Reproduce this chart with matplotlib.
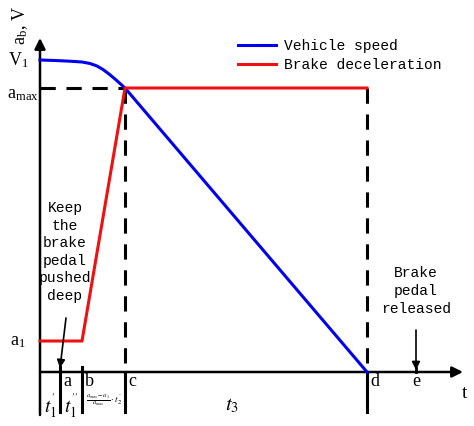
import numpy as np
import matplotlib
matplotlib.use("Agg")
import matplotlib.pyplot as plt

plt.rcParams['mathtext.fontset'] = 'stix'

# time marks on the t axis
mark_names = ['a', 'b', 'c', 'd', 'e']
mark_t = [20, 42, 85, 327, 376]

# levels on the vertical axis
V1 = 312
a_max = 284
a1 = 31

# vehicle speed curve
speed_t = [0, 15, 30, 42, 50, 57, 63, 69, 75, 80, 85, 327]
speed_v = [312, 311.5, 310.8, 310, 308.5, 306, 302.5, 298, 293, 288.5, 284, 0]

# brake deceleration
brake_t = [0, 42, 85, 327]
brake_a = [31, 31, 284, 284]

mono = 'Liberation Mono'
serif = 'Liberation Serif'

fig = plt.figure(figsize=(4.74, 4.26), dpi=100)
ax = fig.add_axes([0, 0, 1, 1])
ax.set_xlim(-40, 434)
ax.set_ylim(-54, 372)
ax.axis('off')

# axes with arrows
ax.annotate('', xy=(0, 334), xytext=(0, -43),
            arrowprops=dict(arrowstyle='-|>', lw=1.8, color='k', mutation_scale=16, shrinkA=0, shrinkB=0))
ax.annotate('', xy=(423, 0), xytext=(0, 0),
            arrowprops=dict(arrowstyle='-|>', lw=1.8, color='k', mutation_scale=16, shrinkA=0, shrinkB=0))

# curves
ax.plot(speed_t, speed_v, color='#0000ee', lw=2.2, label='Vehicle speed', zorder=3)
ax.plot(brake_t, brake_a, color='#ee1111', lw=2.2, label='Brake deceleration', zorder=3)

# dashed guides
dash = dict(color='k', lw=2.2, ls=(0, (5, 3.5)))
ax.plot([0, mark_t[2]], [a_max, a_max], **dash)
ax.plot([mark_t[2], mark_t[2]], [a_max, 0], **dash)
ax.plot([mark_t[3], mark_t[3]], [a_max, 0], **dash)

# ticks below the axis
tick_top = [5, 5, 0, 0]
for t, top in zip(mark_t[:4], tick_top):
    ax.plot([t, t], [top, -40], color='k', lw=2.2)
ax.plot([mark_t[4], mark_t[4]], [0, 4], color='k', lw=2)

# mark letters
for name, t in zip(mark_names[:4], mark_t[:4]):
    ax.text(t + 3, -10, name, fontsize=13, family=serif, ha='left', va='center')
ax.text(mark_t[4], -10, mark_names[4], fontsize=13, family=serif, ha='center', va='center')
ax.text(425, -21, 't', fontsize=14, family=serif, ha='center', va='center')

# vertical axis labels
ax.text(-20, 347, r'a$_\mathregular{b}$, V', fontsize=13, family=serif, rotation=90,
        ha='center', va='center')
ax.text(-22, V1, r'V$_\mathregular{1}$', fontsize=13, family=serif, ha='center', va='center')
ax.text(-17, a_max - 6, r'a$_\mathregular{max}$', fontsize=13, family=serif, ha='center', va='center')
ax.text(-22, a1 - 1, r'a$_\mathregular{1}$', fontsize=13, family=serif, ha='center', va='center')

# interval labels
ax.text(10, -34, r"$t_1^{'}$", fontsize=14, ha='center', va='center')
ax.text(31, -34, r"$t_1^{''}$", fontsize=14, ha='center', va='center')
ax.text(64, -28, r"$\frac{a_{max}-a_1}{a_{max}}\cdot t_2^{''}$", fontsize=6.5, ha='center', va='center')
ax.text(192, -33, r"$t_3$", fontsize=15, ha='center', va='center')

# annotations
ax.text(25, 120, 'Keep\nthe\nbrake\npedal\npushed\ndeep', fontsize=10.5, family=mono,
        ha='center', va='center', linespacing=1.32)
ax.annotate('', xy=(20, 4), xytext=(26, 54),
            arrowprops=dict(arrowstyle='-|>', lw=1.2, color='k', mutation_scale=12, shrinkA=0, shrinkB=0))
ax.text(376, 81, 'Brake\npedal\nreleased', fontsize=10.5, family=mono,
        ha='center', va='center', linespacing=1.4)
ax.annotate('', xy=(376, 2), xytext=(376, 42),
            arrowprops=dict(arrowstyle='-|>', lw=1.2, color='k', mutation_scale=12, shrinkA=0, shrinkB=0))

ax.legend(loc='upper left', bbox_to_anchor=(0.477, 0.935), bbox_transform=fig.transFigure,
          frameon=False, prop={'family': mono, 'size': 10.5}, handlelength=2.6,
          handletextpad=0.55, labelspacing=0.3, borderpad=0.3)

fig.savefig('out.png', dpi=100)
